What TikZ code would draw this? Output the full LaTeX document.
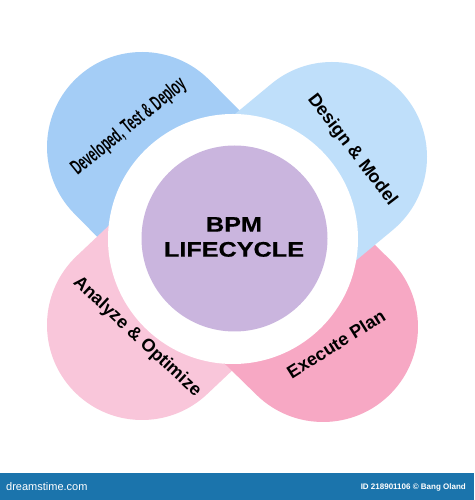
\documentclass[tikz,border=0pt]{standalone}
\usepackage{fontspec}
\usepackage{graphicx}
\setmainfont{Liberation Sans}
\newfontfamily\widefont{Liberation Sans}[FakeStretch=1.2, FakeBold=0.6]
\usetikzlibrary{calc}
\definecolor{tlblue}{RGB}{164,205,246}
\definecolor{trblue}{RGB}{191,223,250}
\definecolor{blpink}{RGB}{249,198,218}
\definecolor{brpink}{RGB}{247,168,196}
\definecolor{hubfill}{RGB}{202,181,222}
\definecolor{barblue}{RGB}{27,116,172}
\tikzset{
  petaltext/.style={font=\bfseries\fontsize{18}{20}\selectfont, text=black, inner sep=0pt},
  hubtext/.style={font=\widefont\bfseries\fontsize{21}{25}\selectfont, text=black, align=center, inner sep=0pt},
}
\newcommand\petaldraw[5]{%
  \fill[#4] (#1,#2) ++(#3-90:#5) arc[start angle=#3-90, end angle=#3+90, radius=#5]
    -- ($(C)+(#3+90:#5)$) -- ($(C)+(#3-90:#5)$) -- cycle;}
\begin{document}
\begin{tikzpicture}[x=1pt,y=1pt]
\useasboundingbox (0,0) rectangle (474,500);
\fill[white] (0,0) rectangle (474,500);
\coordinate (C) at (233,261);
% petals (stacking order: TL, BL, BR, TR)
\petaldraw{142}{353}{134.7}{tlblue}{95}
\petaldraw{142}{175}{223.4}{blpink}{95}
\petaldraw{323}{173}{315.6}{brpink}{95}
\petaldraw{332}{343}{39.6}{trblue}{95}
% white ring and hub
\fill[white] (C) circle[radius=125];
\fill[hubfill] (234.5,261.5) circle[radius=93];
\node[hubtext] (hub) at (234,263) {BPM\\LIFECYCLE};
% petal labels
\node[font=\bfseries\fontsize{21}{24}\selectfont, text=black, inner sep=0pt, rotate=39] (dev) at (129,373) {\scalebox{0.55}[1]{Developed, Test \& Deploy}};
\node[petaltext, rotate=-52.5] (design) at (352,350) {Design \& Model};
\node[petaltext, rotate=-42.8] (analyze) at (137,163) {Analyze \& Optimize};
\node[petaltext, rotate=32] (execute) at (336,156) {Execute Plan};
% bottom bar
\fill[barblue] (0,0) rectangle (474,27);
\node[anchor=west, text=white, font=\fontsize{11}{12}\selectfont, inner sep=0pt] (wmleft) at (6,13) {dreamstime.com};
\node[anchor=east, text=white, font=\bfseries\fontsize{8}{9}\selectfont, inner sep=0pt] (wmright) at (466,13) {ID 218901106 \textcopyright{} Bang Oland};
\end{tikzpicture}
\end{document}
